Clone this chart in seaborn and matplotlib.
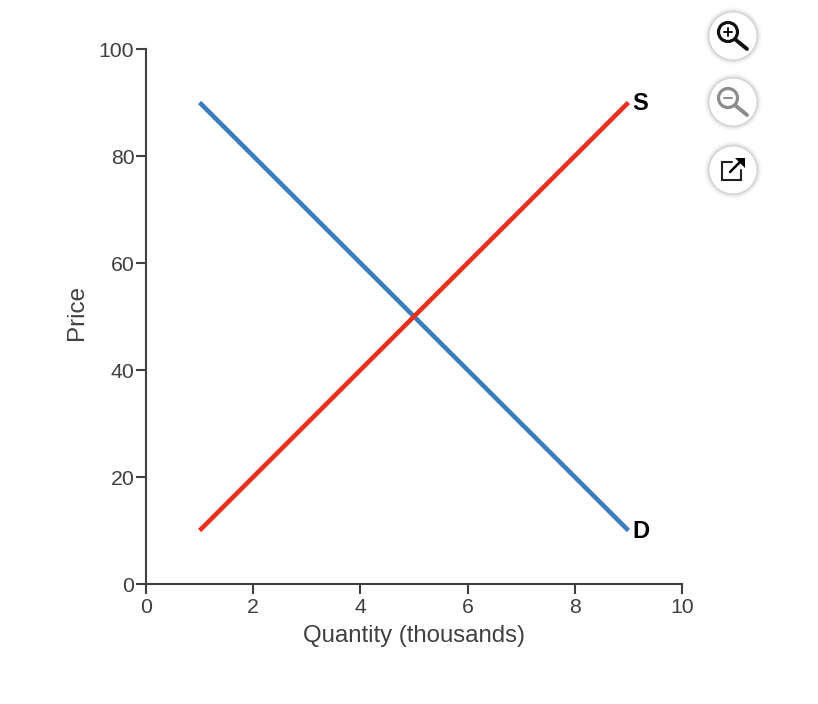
import matplotlib
matplotlib.use("Agg")
import matplotlib.pyplot as plt
from matplotlib.patches import Circle
import pandas as pd
import seaborn as sns

quantity = [1, 9]
supply_price = [10, 90]
demand_price = [90, 10]
x_ticks = [0, 2, 4, 6, 8, 10]
y_ticks = [0, 20, 40, 60, 80, 100]
supply_color = "#e8301f"
demand_color = "#3a7dbd"
axis_color = "#404040"

sns.set_theme(style="white")
plt.rcParams["font.family"] = ["Liberation Sans", "DejaVu Sans"]

W, H = 818, 704
fig = plt.figure(figsize=(W / 100, H / 100), dpi=100)
ax = fig.add_axes([146 / W, 1 - 584 / H, (682 - 146) / W, (584 - 49) / H])

df = pd.DataFrame({"q": quantity + quantity,
                   "p": supply_price + demand_price,
                   "curve": ["S", "S", "D", "D"]})
sns.lineplot(data=df, x="q", y="p", hue="curve",
             palette={"S": supply_color, "D": demand_color},
             hue_order=["D", "S"], linewidth=3.3, legend=False, ax=ax,
             solid_capstyle="butt", errorbar=None, sort=False)

ax.set_xlim(0, 10)
ax.set_ylim(0, 100)
ax.set_xticks(x_ticks)
ax.set_yticks(y_ticks)
ax.set_xlabel("Quantity (thousands)", fontsize=17.3, color=axis_color, va="center")
ax.set_ylabel("Price", fontsize=17.5, color=axis_color, va="center")
ax.xaxis.set_label_coords(0.5, -0.097)
ax.yaxis.set_label_coords(-0.129, 0.507)
ax.tick_params(axis="both", length=7.5, width=1.5, color=axis_color,
               labelcolor=axis_color, labelsize=15.3, left=True, bottom=True)
ax.tick_params(axis="x", direction="out", pad=2.7)
ax.tick_params(axis="y", direction="out", pad=0.9)
for lab in ax.get_yticklabels():
    lab.set_verticalalignment("center_baseline")
sns.despine(ax=ax)
for s in ("left", "bottom"):
    ax.spines[s].set_color(axis_color)
    ax.spines[s].set_linewidth(1.5)

ax.annotate("S", (quantity[1], supply_price[1]), xytext=(3, -0.5), textcoords="offset points",
            fontsize=17, fontweight="bold", color="black", va="center", ha="left")
ax.annotate("D", (quantity[1], demand_price[1]), xytext=(3, -0.5), textcoords="offset points",
            fontsize=17, fontweight="bold", color="black", va="center", ha="left")

# toolbar buttons in pixel coordinates
ui = fig.add_axes([0, 0, 1, 1], facecolor="none")
ui.set_xlim(0, W)
ui.set_ylim(H, 0)
ui.axis("off")
cx = 733
for cy in (36, 102, 170):
    for r, a in ((29, .015), (28, .02), (27, .03), (26, .04), (25, .05), (24.3, .06)):
        ui.add_patch(Circle((cx, cy), r, fc="black", ec="none", alpha=a))
    ui.add_patch(Circle((cx, cy), 23.6, fc="white", ec="none"))

def magnifier(cy, col, plus):
    ui.add_patch(Circle((cx - 5, cy - 4), 9.5, fc="none", ec=col, lw=2.3))
    ui.plot([cx + 3, cx + 14], [cy + 4, cy + 13], color=col, lw=2.8, solid_capstyle="round")
    ui.plot([cx - 9, cx - 1], [cy - 4, cy - 4], color=col, lw=1.4)
    if plus:
        ui.plot([cx - 5, cx - 5], [cy - 8, cy], color=col, lw=1.4)

magnifier(36, "#111111", True)
magnifier(102, "#8c8c8c", False)
ui.plot([cx - 1, cx - 11, cx - 11, cx + 8, cx + 8], [162, 162, 180, 180, 170],
        color="#222222", lw=1.5, solid_joinstyle="miter")
ui.plot([cx - 3, cx + 8], [172, 161], color="black", lw=1.8)
ui.fill([cx + 2, cx + 12, cx + 12], [158, 158, 168], color="black", lw=0)

fig.savefig("out.png", dpi=100, facecolor="white")
